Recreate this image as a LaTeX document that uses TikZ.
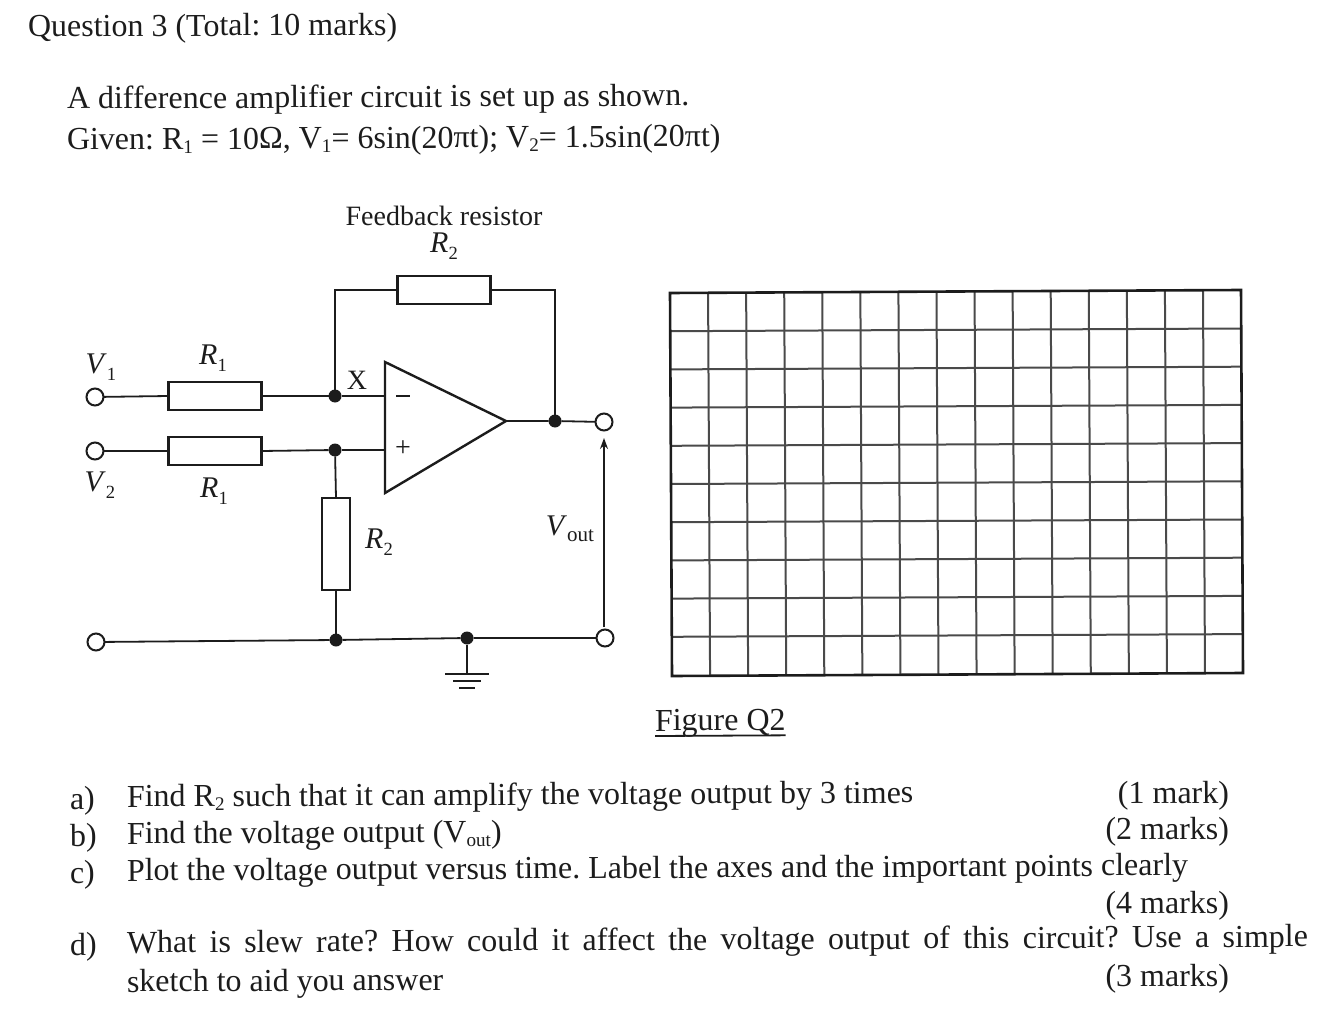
\documentclass[tikz,border=0pt]{standalone}
\usepackage{fontspec}
\setmainfont{Liberation Serif}
\usetikzlibrary{arrows.meta}
\frenchspacing
\newcommand{\subs}[1]{\raisebox{-0.13em}{\scalebox{0.6}{#1}}}
\newcommand{\subL}[1]{\raisebox{-0.22em}{\scalebox{0.62}{#1}}}
\definecolor{ink}{HTML}{1C1C1C}
\definecolor{gridink}{HTML}{4A4A4A}
\tikzset{
  every node/.style={inner sep=0pt,outer sep=0pt,text=ink},
  wire/.style={draw=ink,line width=1.8pt},
  body/.style={anchor=base west,rotate=0.3,font=\fontsize{32}{38}\selectfont},
  bodyr/.style={anchor=base east,rotate=0.3,font=\fontsize{32}{38}\selectfont},
  lab/.style={font=\fontsize{28}{32}\selectfont},
  sym/.style={font=\fontsize{30}{34}\selectfont},
  res/.style={draw=ink,line width=2.4pt,fill=white,rectangle,minimum width=93pt,minimum height=28pt},
  vres/.style={draw=ink,line width=2.4pt,fill=white,rectangle,minimum width=28pt,minimum height=92pt},
  term/.style={draw=ink,line width=2pt,fill=white,circle,minimum size=17pt},
  junction/.style={fill=ink,circle,minimum size=13pt},
  gridline/.style={draw=gridink,line width=2pt},
  gridedge/.style={draw=ink,line width=2.6pt}
}
\begin{document}
\begin{tikzpicture}[x=1pt,y=-1pt]
\useasboundingbox (0,0) rectangle (1338,1016);
% question text
\node[body] (q) at (28,37) {Question 3 (Total: 10 marks)};
\node[body] (t1) at (67,109) {A difference amplifier circuit is set up as shown.};
\node[body] (t2) at (67,150) {Given: R\subs{1} = 10Ω, V\subs{1}= 6sin(20πt); V\subs{2}= 1.5sin(20πt)};
% circuit: junctions and terminals
\node[term] (v1) at (95,397) {};
\node[term] (v2) at (95,451) {};
\node[term] (v0) at (96,642) {};
\node[term] (o1) at (604,422) {};
\node[term] (o0) at (605,638) {};
\node[junction] (jx) at (335,396) {};
\node[junction] (jp) at (335,450) {};
\node[junction] (jo) at (555,421) {};
\node[junction] (jb) at (336,640) {};
\node[junction] (jg) at (467,638) {};
\coordinate (tl) at (385,362);
\coordinate (bl) at (385,493);
\coordinate (apex) at (506,421);
\coordinate (inm) at (385,396);
\coordinate (inp) at (385,450);
\coordinate (fl) at (335,290);
\coordinate (fr) at (555,290);
\coordinate (gnd) at (467,674);
\coordinate (arrS) at (604,627);
\coordinate (arrE) at (604,438);
\node[res] (r1a) at (215,396) {};
\node[res] (r1b) at (215,451) {};
\node[res] (r2f) at (444,290) {};
\node[vres] (r2g) at (336,544) {};
% wires
\draw[wire] (v1) -- (r1a.west);
\draw[wire] (r1a.east) -- (jx);
\draw[wire] (jx) -- (inm);
\draw[wire] (v2) -- (r1b.west);
\draw[wire] (r1b.east) -- (jp);
\draw[wire] (jp) -- (inp);
\draw[wire] (jx) -- (fl) -- (r2f.west);
\draw[wire] (r2f.east) -- (fr) -- (jo);
\draw[wire] (apex) -- (jo) -- (o1);
\draw[wire] (jp) -- (r2g.north);
\draw[wire] (r2g.south) -- (jb);
\draw[wire] (v0) -- (jb) -- (jg) -- (o0);
\draw[wire] (jg) -- (gnd);
\draw[draw=ink,line width=2.6pt] (gnd)+(-22,0) -- +(22,0);
\draw[draw=ink,line width=2.6pt] (gnd)+(-14,7) -- +(14,7);
\draw[draw=ink,line width=2.4pt] (gnd)+(-8,14) -- +(8,14);
\draw[draw=ink,line width=2.4pt,line join=miter,fill=white] (tl) -- (apex) -- (bl) -- cycle;
\draw[draw=ink,line width=1.4pt,-{Stealth[length=11pt,width=8pt]}] (arrS) -- (arrE);
\draw[draw=ink,line width=1.4pt] (396,396) -- (410,396);
\node[lab] (plus) at (403,449) {+};
% circuit labels
\node[lab] (fb) at (444,216) {Feedback resistor};
\node[sym] (lr2f) at (444,246) {\textit{R}\subL{2}};
\node[sym] (lr1a) at (213,358) {\textit{R}\subL{1}};
\node[sym] (lv1) at (101,367) {\textit{V}\subL{1}};
\node[lab] (lx) at (357,380) {X};
\node[sym] (lv2) at (100,485) {\textit{V}\subL{2}};
\node[sym] (lr1b) at (214,491) {\textit{R}\subL{1}};
\node[sym] (lr2g) at (379,542) {\textit{R}\subL{2}};
\node[sym] (lvo) at (570,529) {\textit{V}{\raisebox{-0.2em}{\fontsize{21}{24}\selectfont out}}};
% graph grid
\foreach \i in {1,...,14}{
  \draw[gridline] ({670+38.07*\i},{293-0.2*\i}) -- ({672+38.07*\i},{675.5-0.2*\i});
}
\foreach \j in {1,...,9}{
  \draw[gridline] ({670+0.2*\j},{293+38.2*\j}) -- ({1241+0.2*\j},{290.3+38.2*\j});
}
\draw[gridedge] (670,293) -- (1241,290) -- (1243,673) -- (672,676) -- cycle;
% figure caption and questions
\node[body] (fig) at (655,731) {Figure Q2};
\draw[draw=ink,line width=1.8pt] ([yshift=-5pt]fig.base west) -- ([yshift=-5pt]fig.base east);
\node[body] (a) at (70,809) {a)};
\node[body] (qa) at (127,807) {Find R\subs{2} such that it can amplify the voltage output by 3 times};
\node[bodyr] (ma) at (1229,803) {(1 mark)};
\node[body] (b) at (70,846) {b)};
\node[body] (qb) at (127,844) {Find the voltage output (V\subs{out})};
\node[bodyr] (mb) at (1229,839) {(2 marks)};
\node[body] (c) at (70,883) {c)};
\node[body] (qc) at (127,881) {Plot the voltage output versus time. Label the axes and the important points clearly};
\node[bodyr] (mc) at (1229,913) {(4 marks)};
\node[body] (d) at (70,955) {d)};
\node[body] (qd) at (127,953) {\makebox[1181pt][s]{What is slew rate? How could it affect the voltage output of this circuit? Use a simple}};
\node[body] (qe) at (127,992) {sketch to aid you answer};
\node[bodyr] (me) at (1229,986) {(3 marks)};
\end{tikzpicture}
\end{document}
